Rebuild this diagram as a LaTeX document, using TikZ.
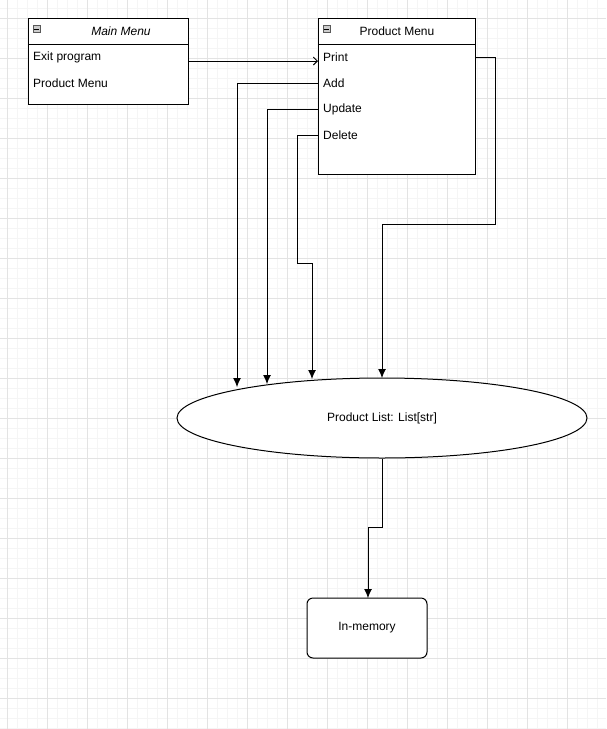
\documentclass[tikz,border=0pt]{standalone}
\usepackage{fontspec}
\setmainfont{Liberation Sans}
\usetikzlibrary{arrows.meta,shapes.geometric}
\begin{document}
\begin{tikzpicture}[x=1pt,y=-1pt,font=\fontsize{12}{14}\selectfont,
  box/.style={draw,line width=1pt,fill=white},
  row/.style={anchor=west,inner sep=0pt},
  conn/.style={draw,line width=0.9pt},
  tip/.style={-{Latex[length=9pt,width=8pt]}},
  icon/.style={draw=gray!70!black,fill=gray!40,minimum size=7pt,inner sep=0pt,line width=0.5pt}]
\useasboundingbox (0,0) rectangle (606,729);
\fill[white] (0,0) rectangle (606,729);
\foreach \x in {-3,7,...,606} \draw[gray!8,line width=0.8pt] (\x,0) -- (\x,729);
\foreach \y in {8,18,...,729} \draw[gray!8,line width=0.8pt] (0,\y) -- (606,\y);
\foreach \x in {7,47,...,606} \draw[gray!22,line width=0.8pt] (\x,0) -- (\x,729);
\foreach \y in {18,58,...,729} \draw[gray!22,line width=0.8pt] (0,\y) -- (606,\y);
% Main Menu
\draw[box] (28,18) rectangle (188,104);
\draw[line width=1pt] (28,44) -- (188,44);
\node[icon] (mi) at (36.5,29) {};
\draw[line width=0.6pt] ([xshift=1.5pt]mi.west) -- ([xshift=-1.5pt]mi.east);
\node[font=\fontsize{12}{14}\selectfont\itshape] (mm) at (121,31) {Main Menu};
\node[row] (exit) at (33,57) {Exit program};
\node[row] (pm) at (33,83) {Product Menu};
% Product Menu
\draw[box] (318,18) rectangle (475,174);
\draw[line width=1pt] (318,44) -- (475,44);
\node[icon] (pi) at (326.5,29) {};
\draw[line width=0.6pt] ([xshift=1.5pt]pi.west) -- ([xshift=-1.5pt]pi.east);
\node (pmt) at (397,31) {Product Menu};
\node[row] (print) at (323,57) {Print};
\node[row] (add) at (323,83) {Add};
\node[row] (upd) at (323,109) {Update};
\node[row] (del) at (323,135) {Delete};
% Ellipse and store
\node[ellipse,draw,line width=1pt,fill=white,minimum width=410pt,minimum height=80pt,inner sep=0pt] (list) at (382,418) {Product List: List[str]};
\node[draw,line width=1pt,rounded corners=6pt,minimum width=120pt,minimum height=60pt,fill=white] (mem) at (367,628) {In-memory};
% connectors
\coordinate (exitR) at (188,61);
\coordinate (pmL) at (318,61);
\draw[conn,-{Straight Barb[length=4pt,width=8pt]}] (exitR) -- (pmL);
\coordinate (printR) at (475,57);
\draw[conn,tip] (printR) -- (495,57) -- (495,224) -- (382,224) -- (382,378);
\coordinate (addL) at (318,83);
\draw[conn,tip] (addL) -- (237,83) -- (237,387);
\coordinate (updL) at (318,109);
\draw[conn,tip] (updL) -- (267,109) -- (267,384);
\coordinate (delL) at (318,135);
\draw[conn,tip] (delL) -- (297,135) -- (297,263) -- (312,263) -- (312,379);
\draw[conn,tip] (list.south) -- (382,527) -- (368,527) -- (368,598);
\end{tikzpicture}
\end{document}
